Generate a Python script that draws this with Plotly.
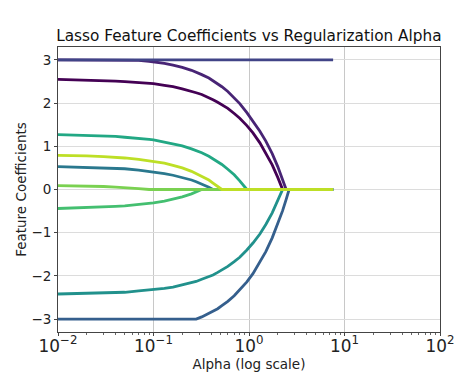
import plotly.graph_objects as go

alphas = [0.01, 0.015, 0.02, 0.03, 0.04, 0.05, 0.07, 0.09, 0.1, 0.13, 0.16, 0.2, 0.25, 0.28,
          0.32, 0.38, 0.42, 0.47, 0.52, 0.6, 0.7, 0.8, 0.95, 1.1, 1.3, 1.5, 1.75, 2.0, 2.25,
          2.45, 2.63, 3.5, 5.0, 7.6]

coef_0 = [2.55, 2.54, 2.54, 2.53, 2.51, 2.50, 2.48, 2.46, 2.45, 2.41, 2.38, 2.33, 2.28, 2.24,
          2.20, 2.13, 2.08, 2.02, 1.97, 1.88, 1.76, 1.65, 1.48, 1.31, 1.08, 0.85, 0.57, 0.28, 0.0,
          0.0, 0.0, 0.0, 0.0, 0.0]
coef_1 = [3.0, 3.0, 3.0, 3.0, 3.0, 3.0, 2.99, 2.97, 2.96, 2.92, 2.88, 2.83, 2.76, 2.72,
          2.66, 2.58, 2.52, 2.45, 2.38, 2.27, 2.13, 1.99, 1.78, 1.58, 1.35, 1.12, 0.83, 0.53, 0.24,
          0.0, 0.0, 0.0, 0.0, 0.0]
coef_2 = [3.0, 3.0, 3.0, 3.0, 3.0, 3.0, 3.0, 3.0, 3.0, 3.0, 3.0, 3.0, 3.0, 3.0,
          3.0, 3.0, 3.0, 3.0, 3.0, 3.0, 3.0, 3.0, 3.0, 3.0, 3.0, 3.0, 3.0, 3.0, 3.0,
          3.0, 3.0, 3.0, 3.0, 3.0]
coef_3 = [-3.0, -3.0, -3.0, -3.0, -3.0, -3.0, -3.0, -3.0, -3.0, -3.0, -3.0, -3.0, -3.0, -3.0,
          -2.95, -2.87, -2.82, -2.76, -2.69, -2.59, -2.46, -2.33, -2.14, -1.95, -1.69, -1.44,
          -1.12, -0.80, -0.49, -0.23, 0.0, 0.0, 0.0, 0.0]
coef_4 = [0.53, 0.52, 0.51, 0.50, 0.49, 0.48, 0.45, 0.42, 0.41, 0.37, 0.33, 0.28, 0.22, 0.18,
          0.13, 0.05, 0.0, 0.0, 0.0, 0.0, 0.0, 0.0, 0.0, 0.0, 0.0, 0.0, 0.0, 0.0, 0.0,
          0.0, 0.0, 0.0, 0.0, 0.0]
coef_5 = [-2.42, -2.41, -2.41, -2.40, -2.39, -2.38, -2.35, -2.33, -2.32, -2.29, -2.26, -2.21,
          -2.16, -2.13, -2.08, -2.02, -1.98, -1.92, -1.87, -1.78, -1.67, -1.57, -1.40, -1.24,
          -1.03, -0.81, -0.54, -0.27, 0.0, 0.0, 0.0, 0.0, 0.0, 0.0]
coef_6 = [1.27, 1.26, 1.25, 1.24, 1.23, 1.21, 1.19, 1.16, 1.15, 1.10, 1.06, 1.01, 0.94, 0.90,
          0.85, 0.77, 0.71, 0.65, 0.58, 0.47, 0.34, 0.20, 0.0, 0.0, 0.0, 0.0, 0.0, 0.0, 0.0,
          0.0, 0.0, 0.0, 0.0, 0.0]
coef_7 = [-0.44, -0.43, -0.42, -0.41, -0.39, -0.38, -0.35, -0.32, -0.31, -0.27, -0.23, -0.17,
          -0.10, -0.06, 0.0, 0.0, 0.0, 0.0, 0.0, 0.0, 0.0, 0.0, 0.0, 0.0, 0.0, 0.0, 0.0, 0.0,
          0.0, 0.0, 0.0, 0.0, 0.0, 0.0]
coef_8 = [0.09, 0.085, 0.08, 0.07, 0.055, 0.045, 0.02, 0.0, 0.0, 0.0, 0.0, 0.0, 0.0, 0.0,
          0.0, 0.0, 0.0, 0.0, 0.0, 0.0, 0.0, 0.0, 0.0, 0.0, 0.0, 0.0, 0.0, 0.0, 0.0,
          0.0, 0.0, 0.0, 0.0, 0.0]
coef_9 = [0.79, 0.79, 0.78, 0.76, 0.75, 0.73, 0.70, 0.67, 0.65, 0.61, 0.56, 0.50, 0.42, 0.37,
          0.31, 0.22, 0.15, 0.08, 0.0, 0.0, 0.0, 0.0, 0.0, 0.0, 0.0, 0.0, 0.0, 0.0, 0.0,
          0.0, 0.0, 0.0, 0.0, 0.0]

series = [coef_0, coef_1, coef_2, coef_3, coef_4, coef_5, coef_6, coef_7, coef_8, coef_9]
colors = ["#440154", "#482475", "#414487", "#355f8d", "#2a788e",
          "#21918c", "#22a884", "#44bf70", "#7ad151", "#bddf26"]

x_label_alias = {"1": "10<sup>0</sup>", "10": "10<sup>1</sup>", "100": "10<sup>2</sup>"}

title_text = "Lasso Feature Coefficients vs Regularization Alpha"
x_title = "Alpha (log scale)"
y_title = "Feature Coefficients"

fig = go.Figure()
for vals, col in zip(series, colors):
    fig.add_trace(go.Scatter(x=alphas, y=vals, mode="lines",
                             line=dict(color=col, width=2.8), showlegend=False,
                             hoverinfo="skip"))

font_family = "DejaVu Sans"
fig.update_layout(
    width=474, height=378,
    margin=dict(l=58, r=34, t=47, b=46),
    paper_bgcolor="white", plot_bgcolor="white",
    font=dict(family=font_family, size=13, color="#222"),
    title=dict(text=title_text, x=0.525, xanchor="center", y=0.905, yanchor="middle",
               font=dict(size=15.3, color="#111")),
)
fig.update_xaxes(
    type="log", range=[-2, 2], dtick=1, exponentformat="power", showexponent="all",
    labelalias=x_label_alias, ticklabelstandoff=-4,
    showgrid=True, gridcolor="#c8c8c8", gridwidth=1,
    showline=True, linecolor="#444", linewidth=1, mirror=True,
    ticks="outside", ticklen=3, tickcolor="#444",
    minor=dict(ticks="outside", ticklen=2, tickcolor="#666", showgrid=False),
    zeroline=False, automargin=False,
    title=dict(text=x_title, standoff=0, font=dict(size=13.5)),
    tickfont=dict(size=13.5),
)
fig.update_yaxes(
    range=[-3.3, 3.3], dtick=1, tickformat="d",
    showgrid=True, gridcolor="#dcdcdc", gridwidth=1,
    showline=True, linecolor="#444", linewidth=1, mirror=True,
    ticks="outside", ticklen=3, tickcolor="#444",
    zeroline=False, automargin=False,
    title=dict(text=y_title, standoff=1, font=dict(size=13.5)),
    tickfont=dict(size=13.5),
)

fig.write_html("out.html", config={"displayModeBar": False},
               post_script="document.body.style.margin='0';document.body.style.padding='0';")
